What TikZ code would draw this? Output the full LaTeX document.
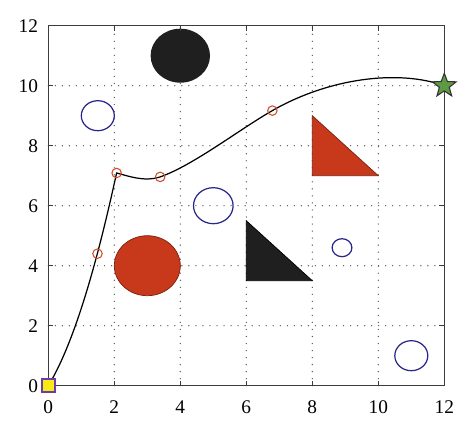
\documentclass[tikz,border=0pt]{standalone}
\usepackage{fontspec}
\setmainfont{Liberation Serif}
\usepackage{xcolor}
\usetikzlibrary{shapes.geometric}

\definecolor{obsred}{RGB}{200,56,26}
\definecolor{obsblue}{RGB}{40,38,140}
\definecolor{wpred}{RGB}{210,75,40}
\definecolor{goalgreen}{RGB}{92,154,68}
\definecolor{startyel}{RGB}{246,234,20}
\definecolor{startpur}{RGB}{110,60,170}
\definecolor{frame}{RGB}{60,60,60}

\begin{document}
\begin{tikzpicture}[x=0.66cm, y=0.6cm, font=\fontsize{11}{13}\selectfont,
  gridline/.style={black!65, line width=0.8pt, line cap=round, dash pattern=on 0pt off 4pt},
  redobs/.style={fill=obsred, draw=obsred!60!black, line width=0.4pt},
  blackobs/.style={fill=black!88, draw=black},
  ring/.style={draw=obsblue, line width=0.7pt},
  waypt/.style={circle, draw=wpred, line width=0.6pt, minimum size=0.19cm, inner sep=0pt}]
\useasboundingbox (-1.464,-1.51) rectangle (12.9,12.857);
% grid
\foreach \g in {2,4,...,10} {
  \draw[gridline] (\g,0) -- (\g,12);
  \draw[gridline] (0,\g) -- (12,\g);
}
% obstacles
\fill[black!88] (4,11) circle (0.9);
\draw[redobs] (3,4) circle (1);
\draw[redobs] (8,9) -- (8,7) -- (10,7) -- cycle;
\draw[blackobs] (6,5.5) -- (6,3.5) -- (8,3.5) -- cycle;
\foreach \cx/\cy/\r in {1.5/9/0.5, 5/6/0.6, 8.9/4.6/0.3, 11/1/0.5} { \draw[ring] (\cx,\cy) circle (\r); }
% path through the waypoints
\coordinate (p0) at (0,0);
\coordinate (p1) at (2.07,7.09);
\coordinate (p2) at (3.39,6.96);
\coordinate (p3) at (6.79,9.17);
\coordinate (p4) at (12,10);
\draw[black, line width=0.7pt]
  (p0) .. controls (1.0,1.8) and (1.75,5.5) .. (p1)
       .. controls (2.4,7.0) and (2.9,6.78) .. (p2)
       .. controls (4.4,7.35) and (5.8,8.55) .. (p3)
       .. controls (8.5,10.25) and (10.6,10.55) .. (p4);
\node[waypt] (w1) at (1.49,4.4) {};
\node[waypt] (w2) at (p1) {};
\node[waypt] (w3) at (p2) {};
\node[waypt] (w4) at (p3) {};
% frame and ticks
\draw[frame, line width=0.9pt] (0,0) rectangle (12,12);
\foreach \t in {0,2,...,12} {
  \draw[frame, line width=0.6pt] (\t,0) -- (\t,0.17) (\t,12) -- (\t,11.83);
  \draw[frame, line width=0.6pt] (0,\t) -- (0.15,\t) (12,\t) -- (11.85,\t);
  \node at (\t,-0.72) {\t};
  \node[anchor=east, inner sep=0pt] at (-0.3,\t) {\t};
}
% start and goal
\node[rectangle, fill=startyel, draw=startpur, line width=0.9pt, minimum size=0.26cm, inner sep=0pt] (start) at (p0) {};
\node[star, star points=5, star point ratio=2.4, fill=goalgreen, draw=black!80, line width=0.6pt, minimum size=0.5cm, inner sep=0pt] (goal) at (p4) {};
\end{tikzpicture}
\end{document}
